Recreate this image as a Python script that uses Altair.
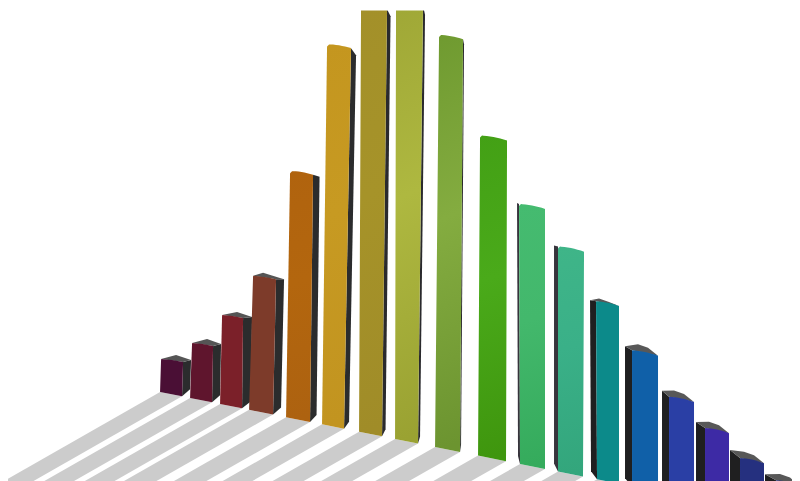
import altair as alt

# values
values      = [33, 55, 89, 134, 246, 380, 427, 438, 412, 320, 260, 225, 178, 136, 97, 73, 50, 35]
floor_pos   = [160, 190, 220, 249, 286, 322, 359, 395, 435, 478, 520, 558, 597, 632, 669, 705, 740, 776]
base_width  = [22, 22, 22, 24, 24, 22, 23, 23, 25, 28, 25, 25, 22, 26, 25, 24, 24, 24]
top_width   = [22, 21, 21, 23, 23, 24, 26, 27, 24, 27, 26, 26, 23, 26, 25, 24, 24, 24]
lean        = [1, 2, 2, 4, 4, 5, 2, 1, 4, 2, -1, 0, -1, 0, 0, 0, 0, 0]
side_depth  = [8, 8, 9, 8, 6.5, 5, 3.5, 2, 1, 0, -2, -4, -6, -7, -7, -9, -10, -11]
side_drop   = [-2, -2, -1, 0, 2, 7, 7, 9, 5, 0, -1, -1, -1, -4, -6, -6, -8, -6]
colors_top  = ["#4a0f35", "#5f152d", "#7b2029", "#7d3b2a", "#b0630e", "#c4961f", "#a39029", "#9fa736",
               "#6f9a30", "#43a015", "#45bb70", "#3fb588", "#0c8a8a", "#1060a8", "#2a3fa5", "#3d2aa5", "#25307f", "#25307f"]
colors_mid  = ["#4a0f35", "#5f152d", "#7b2029", "#7d3b2a", "#b3660e", "#c79a22", "#a69329", "#aeb840",
               "#84ac40", "#4aaa1a", "#43b86c", "#3ab088", "#0c8a8a", "#1060a8", "#2a3fa5", "#3d2aa5", "#25307f", "#25307f"]
colors_low  = ["#4a0f35", "#5f152d", "#7b2029", "#7d3b2a", "#ad6210", "#c29420", "#a08c28", "#9aa232",
               "#6c9430", "#3f960e", "#35ab5c", "#33a67c", "#0c8a8a", "#1060a8", "#2a3fa5", "#3d2aa5", "#25307f", "#25307f"]

MARGIN = 8
FLOOR_SLOPE = 0.2
SHADOW_SLOPE = 0.57
BOTTOM = 492
SCALE_X, SCALE_Y, SHIFT_Y = 0.99, 0.99, 2.5


def base_y(x):
    return 392 + FLOOR_SLOPE * (x - 160)


def px(points):
    return [[x / SCALE_X - MARGIN, (y - SHIFT_Y) / SCALE_Y - MARGIN] for x, y in points]


def feature(points, color):
    ring = px(points)
    ring.append(ring[0])
    return {"type": "Feature", "geometry": {"type": "Polygon", "coordinates": [ring]},
            "properties": {"color": color}}


def layer(features, **mark):
    chart = alt.Chart(alt.Data(values=features))
    if "fill" in mark:
        chart = chart.mark_geoshape(stroke=None, **mark)
    else:
        chart = chart.mark_geoshape(stroke=None).encode(fill=alt.Fill("properties.color:N", scale=None))
    return chart.project(type="identity", scale=1, translate=[0, 0])


shadows, sides, tops, faces = [], [], [], []
for i, v in enumerate(values):
    xl = floor_pos[i]
    xr = xl + base_width[i]
    yl, yr = base_y(xl), base_y(xr)
    txl = xl + lean[i]
    txr = txl + top_width[i]
    ytl = yl - v
    rise = 0.14 + 0.00014 * (xl - 160)
    ytr = ytl + rise * top_width[i]

    # floor shadow
    if yl < BOTTOM - 8:
        shadows.append(feature([
            (xl, yl), (xr, yr),
            (xr - (BOTTOM - yr) / SHADOW_SLOPE, BOTTOM),
            (xl - (BOTTOM - yl) / SHADOW_SLOPE, BOTTOM)], "#cccccc"))

    # side wall
    d = side_depth[i]
    if d > 0:
        sides.append(feature([
            (txr, ytr), (txr + d, ytr + side_drop[i]),
            (xr + d, yr - 7), (xr, yr)], "#2b2c2d" if i < 6 else "#2a2a2d"))
        if i <= 3:
            tops.append(feature([
                (txl, ytl), (txl + 15 - (i == 3) * 5, ytl - 4 + (i >= 2)),
                (txr + d, ytr + side_drop[i]), (txr, ytr)], "#555555"))
    elif d < 0:
        sides.append(feature([
            (txl, ytl), (txl + d, ytl + side_drop[i]),
            (xl + d, yl - 8), (xl, yl)], "#1f1f20" if i > 11 else "#37343c"))
        if i >= 12:
            rim = 10 if i > 12 else 6
            tops.append(feature([
                (txl + d, ytl + side_drop[i]), (txr - 20, ytr - rim - 1.5),
                (txr - 10, ytr - rim + 2), (txr, ytr), (txl, ytl)], "#585858"))

    # front face with a softly arched top and rounded shoulder
    bulge = 1.0 if i > 3 else 0.4
    corner = 2.0 if 4 <= i <= 11 else 0.5
    edge = [(txl, ytl + corner), (txl + corner, ytl)]
    for k in range(1, 8):
        t = k / 8
        edge.append((txl + t * top_width[i], ytl + t * (ytr - ytl) - bulge * 4 * t * (1 - t)))
    edge.append((txr, ytr))
    faces.append((feature(edge + [(xr, yr), (xl, yl)], colors_mid[i]), i))

layers = [layer(shadows), layer(sides), layer(tops)]
for f, i in faces:
    grad = alt.Gradient(
        gradient="linear", x1=0, y1=0, x2=0.03, y2=1,
        stops=[alt.GradientStop(color=colors_top[i], offset=0),
               alt.GradientStop(color=colors_mid[i], offset=0.45),
               alt.GradientStop(color=colors_low[i], offset=1)])
    layers.append(layer([f], fill=grad))

chart = alt.layer(*layers).properties(
    width=792, height=478, padding=0,
    autosize=alt.AutoSizeParams(type="none"),
).configure_view(stroke=None)

chart.save("out.html", embed_options={"renderer": "svg", "actions": False})
